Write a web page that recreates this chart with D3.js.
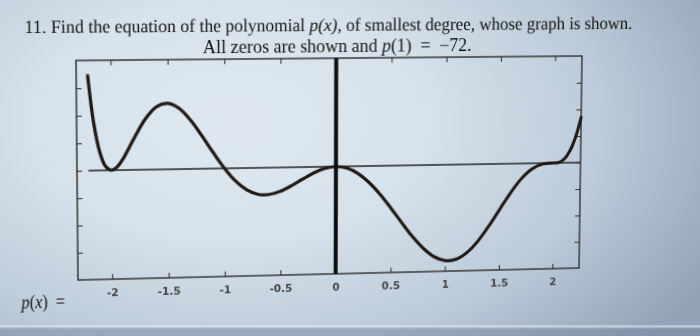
<!DOCTYPE html>
<html>
<head>
<meta charset="utf-8">
<script src="https://cdn.jsdelivr.net/npm/d3@7"></script>
<style>
  html, body { margin: 0; padding: 0; }
  body {
    width: 700px; height: 336px; overflow: hidden; position: relative;
    background:
      linear-gradient(to bottom, rgba(0,0,0,0) 0, rgba(0,0,0,0) 325px, rgba(235,242,248,0.7) 326px, rgba(110,128,152,0.45) 329px, rgba(110,128,152,0.45) 336px),
      radial-gradient(ellipse 78% 100% at 33% 36%, #dfe8f0 0%, #d6e2ec 35%, #bccbd9 68%, #92a3b7 100%);
  }
  #chart { position: absolute; left: 0; top: 0; transform-origin: 0 0; filter: blur(0.45px); }
  #chart svg { display: block; overflow: visible; }
</style>
</head>
<body>
<div id="chart"></div>
<script>
// ticks
const xTicks = [-2, -1.5, -1, -0.5, 0, 0.5, 1, 1.5, 2];
const xTickLabels = ["-2", "-1.5", "-1", "-0.5", "0", "0.5", "1", "1.5", "2"];
const yTicks = [-60, -40, -20, 0, 20, 40, 60];
const xDomain = [-2.3, 2.25];
const yDomain = [-80, 80];

// curve
const curveX = [-2.2, -2.15, -2.1, -2.05, -2, -1.95, -1.9, -1.8, -1.7, -1.6, -1.5, -1.4, -1.3, -1.2, -1.1,
  -1, -0.9, -0.8, -0.7, -0.6, -0.5, -0.4, -0.3, -0.2, -0.1, 0, 0.1, 0.2, 0.3, 0.4, 0.5, 0.6, 0.7, 0.8, 0.9,
  1, 1.1, 1.2, 1.3, 1.4, 1.5, 1.6, 1.7, 1.8, 1.9, 2, 2.05, 2.1, 2.15, 2.2, 2.25];
const curveY = [69, 34, 13.4, 2.9, 0, 2.2, 7.7, 22.8, 36.9, 45.9, 48.2, 44.4, 35.7, 24.2, 11.7,
  0, -9.6, -16.2, -19.6, -19.8, -17.6, -13.6, -8.9, -4.4, -1.2, 0, -1.3, -5.4, -12.2, -21.1, -31.6, -42.7, -53.4, -62.4, -68.9,
  -72, -71.2, -66.4, -58.1, -47, -34.5, -22.1, -11.5, -4.2, -0.6, 0, 0.4, 3, 9, 19, 34];
const axisStart = -2.2;

const titleLine1 = ["11. Find the equation of the polynomial ", "p(x)", ", of smallest degree, whose graph is shown."];
const titleLine2 = ["All zeros are shown and ", "p", "(1)  =  −72."];
const answerText = ["p", "(", "x", ")  ="];

const width = 700, height = 336;
const L = 77, R = 581, T = 58, B = 274;

const svg = d3.select("#chart").append("svg")
  .attr("width", width)
  .attr("height", height);

const x = d3.scaleLinear().domain(xDomain).range([L, R]);
const y = d3.scaleLinear().domain(yDomain).range([B, T]);

// inward ticks on all four sides
const tickG = svg.append("g").attr("fill", "none");
tickG.append("g").attr("transform", `translate(0,${B})`)
  .call(d3.axisBottom(x).tickValues(xTicks).tickSizeInner(-5).tickSizeOuter(0).tickPadding(10)
    .tickFormat((d, i) => xTickLabels[i]));
tickG.append("g").attr("transform", `translate(0,${T})`)
  .call(d3.axisTop(x).tickValues(xTicks).tickSizeInner(-5).tickSizeOuter(0).tickFormat(""));
tickG.append("g").attr("transform", `translate(${L},0)`)
  .call(d3.axisLeft(y).tickValues(yTicks).tickSizeInner(-5).tickSizeOuter(0).tickFormat(""));
tickG.append("g").attr("transform", `translate(${R},0)`)
  .call(d3.axisRight(y).tickValues(yTicks).tickSizeInner(-5).tickSizeOuter(0).tickFormat(""));
tickG.selectAll(".domain").remove();
tickG.selectAll(".tick line").attr("stroke", "#3a3a3a").attr("stroke-width", 1.1);
tickG.selectAll(".tick text")
  .attr("fill", "#454545")
  .attr("font-family", "DejaVu Sans, sans-serif")
  .attr("font-size", 10.5)
  .attr("font-weight", "bold");

// box
svg.append("rect")
  .attr("x", L).attr("y", T)
  .attr("width", R - L).attr("height", B - T)
  .attr("fill", "none")
  .attr("stroke", "#2e2e2e")
  .attr("stroke-width", 1.4);

// zero line
svg.append("line")
  .attr("x1", x(axisStart)).attr("x2", R)
  .attr("y1", y(0)).attr("y2", y(0))
  .attr("stroke", "#262626")
  .attr("stroke-width", 1.6);

// curve
const line = d3.line()
  .x(d => x(d[0]))
  .y(d => y(d[1]))
  .curve(d3.curveCatmullRom.alpha(0.5));

svg.append("path")
  .datum(d3.zip(curveX, curveY))
  .attr("d", line)
  .attr("fill", "none")
  .attr("stroke", "#211b16")
  .attr("stroke-width", 3.2)
  .attr("stroke-linecap", "round")
  .attr("stroke-linejoin", "round");

// y axis
svg.append("line")
  .attr("x1", x(0)).attr("x2", x(0))
  .attr("y1", T).attr("y2", B)
  .attr("stroke", "#0e0e0e")
  .attr("stroke-width", 4);

// text, squeezed to the photo's widths
function fitText(parts, italicIdx, x0, yb, w, size) {
  const t = svg.append("text")
    .attr("font-family", "Liberation Serif, serif")
    .attr("font-size", size)
    .attr("fill", "#161616");
  parts.forEach((p, i) => {
    t.append("tspan")
      .attr("font-style", italicIdx.includes(i) ? "italic" : null)
      .attr("xml:space", "preserve")
      .text(p);
  });
  t.attr("xml:space", "preserve");
  const bw = t.node().getBBox().width;
  t.attr("transform", `translate(${x0},${yb}) scale(${w / bw},1)`);
  return t;
}

fitText(titleLine1, [1], 28, 31, 605, 18);
fitText(titleLine2, [1], 200, 52, 268, 18);
fitText(answerText, [0, 2], 22, 301, 44, 18);

// photo perspective: map the plot box onto the photographed corners
const src = [[L, T], [R, T], [L, B], [R, B]];
const dst = [[76, 60.5], [582, 56], [78, 280], [579, 268]];

function solve(A, b) {
  const n = b.length;
  const M = A.map((row, i) => row.concat([b[i]]));
  for (let c = 0; c < n; c++) {
    let p = c;
    for (let r = c + 1; r < n; r++) if (Math.abs(M[r][c]) > Math.abs(M[p][c])) p = r;
    [M[c], M[p]] = [M[p], M[c]];
    for (let r = 0; r < n; r++) {
      if (r === c) continue;
      const f = M[r][c] / M[c][c];
      for (let k = c; k <= n; k++) M[r][k] -= f * M[c][k];
    }
  }
  return M.map((row, i) => row[n] / row[i]);
}

function homography(s, d) {
  const A = [], b = [];
  for (let i = 0; i < 4; i++) {
    const [xs, ys] = s[i], [u, v] = d[i];
    A.push([xs, ys, 1, 0, 0, 0, -u * xs, -u * ys]); b.push(u);
    A.push([0, 0, 0, xs, ys, 1, -v * xs, -v * ys]); b.push(v);
  }
  return solve(A, b);
}

const h = homography(src, dst);
d3.select("#chart").style("transform",
  `matrix3d(${h[0]},${h[3]},0,${h[6]},${h[1]},${h[4]},0,${h[7]},0,0,1,0,${h[2]},${h[5]},0,1)`);
</script>
</body>
</html>
